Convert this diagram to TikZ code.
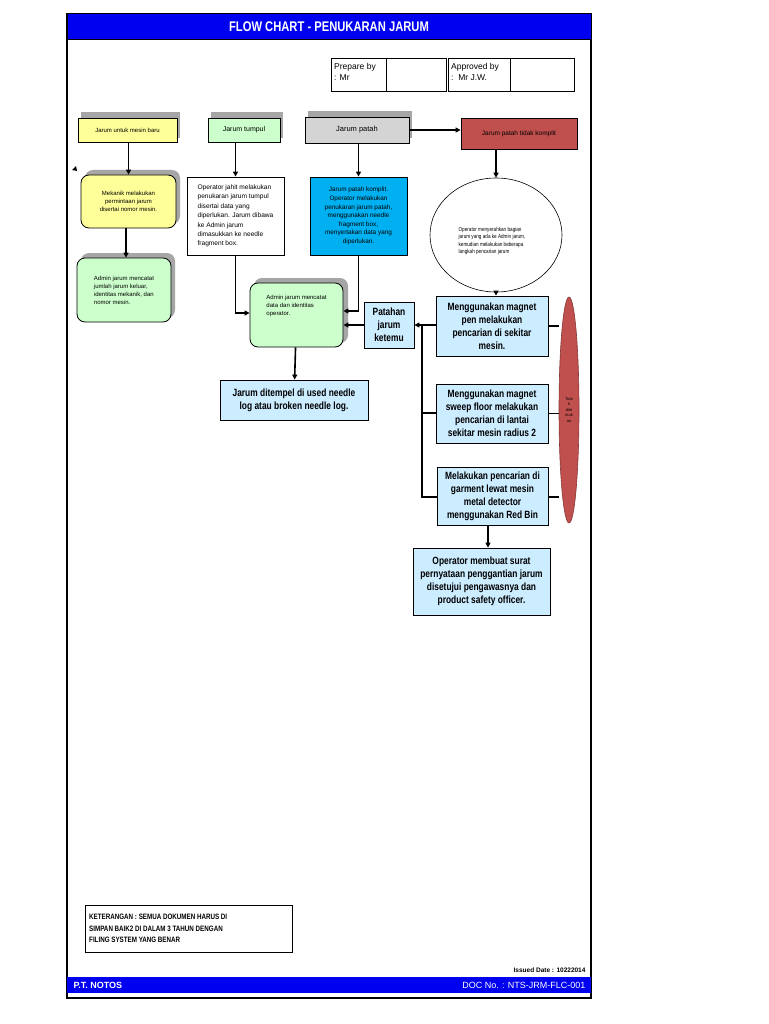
\documentclass[tikz,border=0pt]{standalone}
\usepackage{fontspec}
\setmainfont{Liberation Sans}
\newfontfamily\narrow[FakeStretch=0.8]{Liberation Sans}
\usetikzlibrary{shapes.geometric,arrows.meta}
\definecolor{barblue}{HTML}{0000F0}
\definecolor{lyel}{HTML}{FFFF99}
\definecolor{lgrn}{HTML}{CCFFCC}
\definecolor{lblu}{HTML}{CCECFF}
\definecolor{cyanb}{HTML}{00B0F0}
\definecolor{redb}{HTML}{C0504D}
\definecolor{shad}{HTML}{A6A6A6}
\begin{document}
\begin{tikzpicture}[x=1pt,y=-1pt,
  box/.style={draw=black,line width=0.8pt,inner sep=2pt,align=center},
  arr/.style={line width=1.6pt,-{Triangle[length=5pt,width=5pt]}},
  ln/.style={line width=1.6pt},
  sm/.style={font=\fontsize{6}{8}\selectfont},
  big/.style={font=\narrow\bfseries\fontsize{10.5}{13}\selectfont}]
\useasboundingbox (0,0) rectangle (768,1024);
\fill[white] (0,0) rectangle (768,1024);
% frame
\draw[line width=1.5pt] (67,14) rectangle (591,998);
\fill[barblue] (67,14) rectangle (591,40);
\draw[line width=1pt] (67,14) rectangle (591,40);
\node[text=white,font=\narrow\bfseries\fontsize{14}{16}\selectfont] (title) at (329,27) {FLOW CHART - PENUKARAN JARUM};
\fill[barblue] (67,977) rectangle (591,993);
\node[text=white,font=\bfseries\fontsize{9}{10}\selectfont,anchor=west] (pt) at (70,985) {P.T. NOTOS};
\node[text=white,font=\fontsize{9}{10}\selectfont,anchor=east] (doc) at (589,985) {DOC No. : NTS-JRM-FLC-001};
\node[font=\bfseries\fontsize{6.5}{8}\selectfont,anchor=east] (iss) at (589,970) {Issued Date : 10222014};
% prepare / approved
\draw[line width=0.8pt] (331,58) rectangle (446,91); \draw[line width=0.8pt] (386,58) -- (386,91);
\draw[line width=0.8pt] (448,58) rectangle (574,91); \draw[line width=0.8pt] (510,58) -- (510,91);
\node[anchor=north west,align=left,font=\fontsize{8.5}{11}\selectfont,inner sep=1pt] (prep) at (333,62) {Prepare by\\: Mr};
\node[anchor=north west,align=left,font=\fontsize{8.5}{11}\selectfont,inner sep=1pt] (appr) at (450,62) {Approved by\\:\ \ Mr J.W.};
% shadows
\fill[shad] (81,112) rectangle (180,138);
\fill[shad] (211,112) rectangle (283,138);
\fill[shad] (308,111) rectangle (412,138);
\fill[shad,rounded corners=8pt] (85,170) rectangle (180,224);
\fill[shad,rounded corners=8pt] (81,253) rectangle (175,318);
\fill[shad,rounded corners=8pt] (254,278) rectangle (348,343);
% top boxes
\node[box,fill=lyel,minimum width=99pt,minimum height=24pt,font=\fontsize{6}{7}\selectfont] (baru) at (127.5,130) {Jarum untuk mesin baru};
\node[box,fill=lgrn,minimum width=72pt,minimum height=24pt,font=\fontsize{7}{8}\selectfont] (tumpul) at (244,130) {Jarum tumpul};
\node[box,fill=black!17,minimum width=104pt,minimum height=26pt,font=\fontsize{7.5}{8}\selectfont] (patah) at (357,130) {Jarum patah};
\node[box,fill=redb,minimum width=116pt,minimum height=31pt,font=\fontsize{6.5}{8}\selectfont] (tidak) at (519,133.5) {Jarum patah tidak komplit};
% second row
\node[box,fill=lyel,rounded corners=8pt,minimum width=95pt,minimum height=53pt,sm] (mek) at (128.5,201.5) {Mekanik melakukan\\permintaan jarum\\disertai nomor mesin.};
\node[box,fill=lgrn,rounded corners=8pt,minimum width=94pt,minimum height=64pt,sm,align=left] (adm1) at (124,290) {Admin jarum mencatat\\jumlah jarum keluar,\\identitas mekanik, dan\\nomor mesin.};
\node[box,fill=white,minimum width=97pt,minimum height=78pt,align=left,font=\fontsize{6.6}{9.4}\selectfont,inner sep=1.5pt] (opj) at (235.5,216) {Operator jahit melakukan\\penukaran jarum tumpul\\disertai data yang\\diperlukan. Jarum dibawa\\ke Admin jarum\\dimasukkan ke needle\\fragment box.};
\node[box,fill=cyanb,minimum width=97pt,minimum height=78pt,font=\fontsize{6.4}{8.6}\selectfont,inner sep=1.5pt] (kom) at (358.5,216) {Jarum patah komplit.\\Operator melakukan\\penukaran jarum patah,\\menggunakan needle\\fragment box,\\menyertakan data yang\\diperlukan.};
\node[draw,ellipse,fill=white,minimum width=132pt,minimum height=114pt,line width=0.6pt] (ell) at (496,235) {};
\node[align=left,font=\narrow\fontsize{5.8}{7.5}\selectfont] (elltxt) at (492,241) {Operator menyerahkan bagian\\jarum yang ada ke Admin jarum,\\kemudian melakukan beberapa\\langkah pencarian jarum};
\node[box,fill=lgrn,rounded corners=8pt,minimum width=93pt,minimum height=64pt,sm,align=left] (adm2) at (296.5,315) {Admin jarum mencatat\\data dan identitas\\operator.\\[12pt]};
\node[box,fill=lblu,minimum width=50pt,minimum height=46pt,big,inner sep=1pt] (pat) at (389,325) {Patahan\\jarum\\ketemu};
\node[box,fill=lblu,minimum width=112pt,minimum height=60pt,big] (mp) at (492,326) {Menggunakan magnet\\pen melakukan\\pencarian di sekitar\\mesin.};
\node[box,fill=lblu,minimum width=148pt,minimum height=40pt,big] (tem) at (294,400) {Jarum ditempel di used needle\\log atau broken needle log.};
\node[box,fill=lblu,minimum width=112pt,minimum height=59pt,big] (sw) at (492,413.5) {Menggunakan magnet\\sweep floor melakukan\\pencarian di lantai\\sekitar mesin radius 2};
\node[box,fill=lblu,minimum width=111pt,minimum height=58pt,big] (mel) at (492.5,496) {Melakukan pencarian di\\garment lewat mesin\\metal detector\\menggunakan Red Bin};
\node[box,fill=lblu,minimum width=137pt,minimum height=67pt,big] (omb) at (481.5,581.5) {Operator membuat surat\\pernyataan penggantian jarum\\disetujui pengawasnya dan\\product safety officer.};
\node[draw=redb!70!black,ellipse,fill=redb,minimum width=20pt,minimum height=226pt,inner sep=0pt,line width=0.6pt] (tid) at (569,410) {};
\node[align=center,font=\fontsize{4}{5.5}\selectfont] (tidtxt) at (569,410) {Tida\\k\\dite\\muk\\an};
\node[draw,line width=0.8pt,minimum width=207pt,minimum height=47pt,anchor=north west] (ket) at (85,905) {};
\node[anchor=west,align=left,inner sep=0pt,font=\narrow\bfseries\fontsize{7.8}{11.5}\selectfont] (kettxt) at (89,928.5) {KETERANGAN : SEMUA DOKUMEN HARUS DI\\SIMPAN BAIK2 DI DALAM 3 TAHUN DENGAN\\FILING SYSTEM YANG BENAR};
% stray arrowhead
\fill (72,170) -- (76,166) -- (77,171) -- cycle;
% connectors
\draw[arr] (mek.north|-baru.south) -- (mek.north);
\draw[arr] (mek.south-|126,0) -- (adm1.north-|126,0);
\draw[arr] (opj.north|-tumpul.south) -- (opj.north);
\draw[arr] (patah.south-|kom.north) -- (kom.north);
\draw[arr] (patah.east) -- (tidak.west|-patah.east);
\draw[arr] (ell.north|-tidak.south) -- (ell.north);
\draw[arr] (ell.south) -- (mp.north-|ell.south);
\draw[arr] (opj.south) |- (adm2.west|-0,313);
\draw[arr] (kom.south) |- (adm2.east|-0,311);
\draw[arr] (pat.west) -- (adm2.east|-pat.west);
\draw[arr] (adm2) -- (tem);
\draw[arr] (mp.west|-0,325) -- (pat.east|-0,325);
\coordinate (jt) at (422,325);
\draw[ln] (jt) |- (mel.west|-0,497);
\draw[ln] (422,413) -- (sw.west|-0,413);
\draw[arr] (mel.south-|488,0) -- (omb.north-|488,0);
\draw[ln] (mp.east|-0,326) -- (tid.west|-0,326);
\draw[ln] (sw.east) -- (tid.west|-sw.east);
\draw[ln] (mel.east|-0,497) -- (tid.west|-0,497);
\end{tikzpicture}
\end{document}
